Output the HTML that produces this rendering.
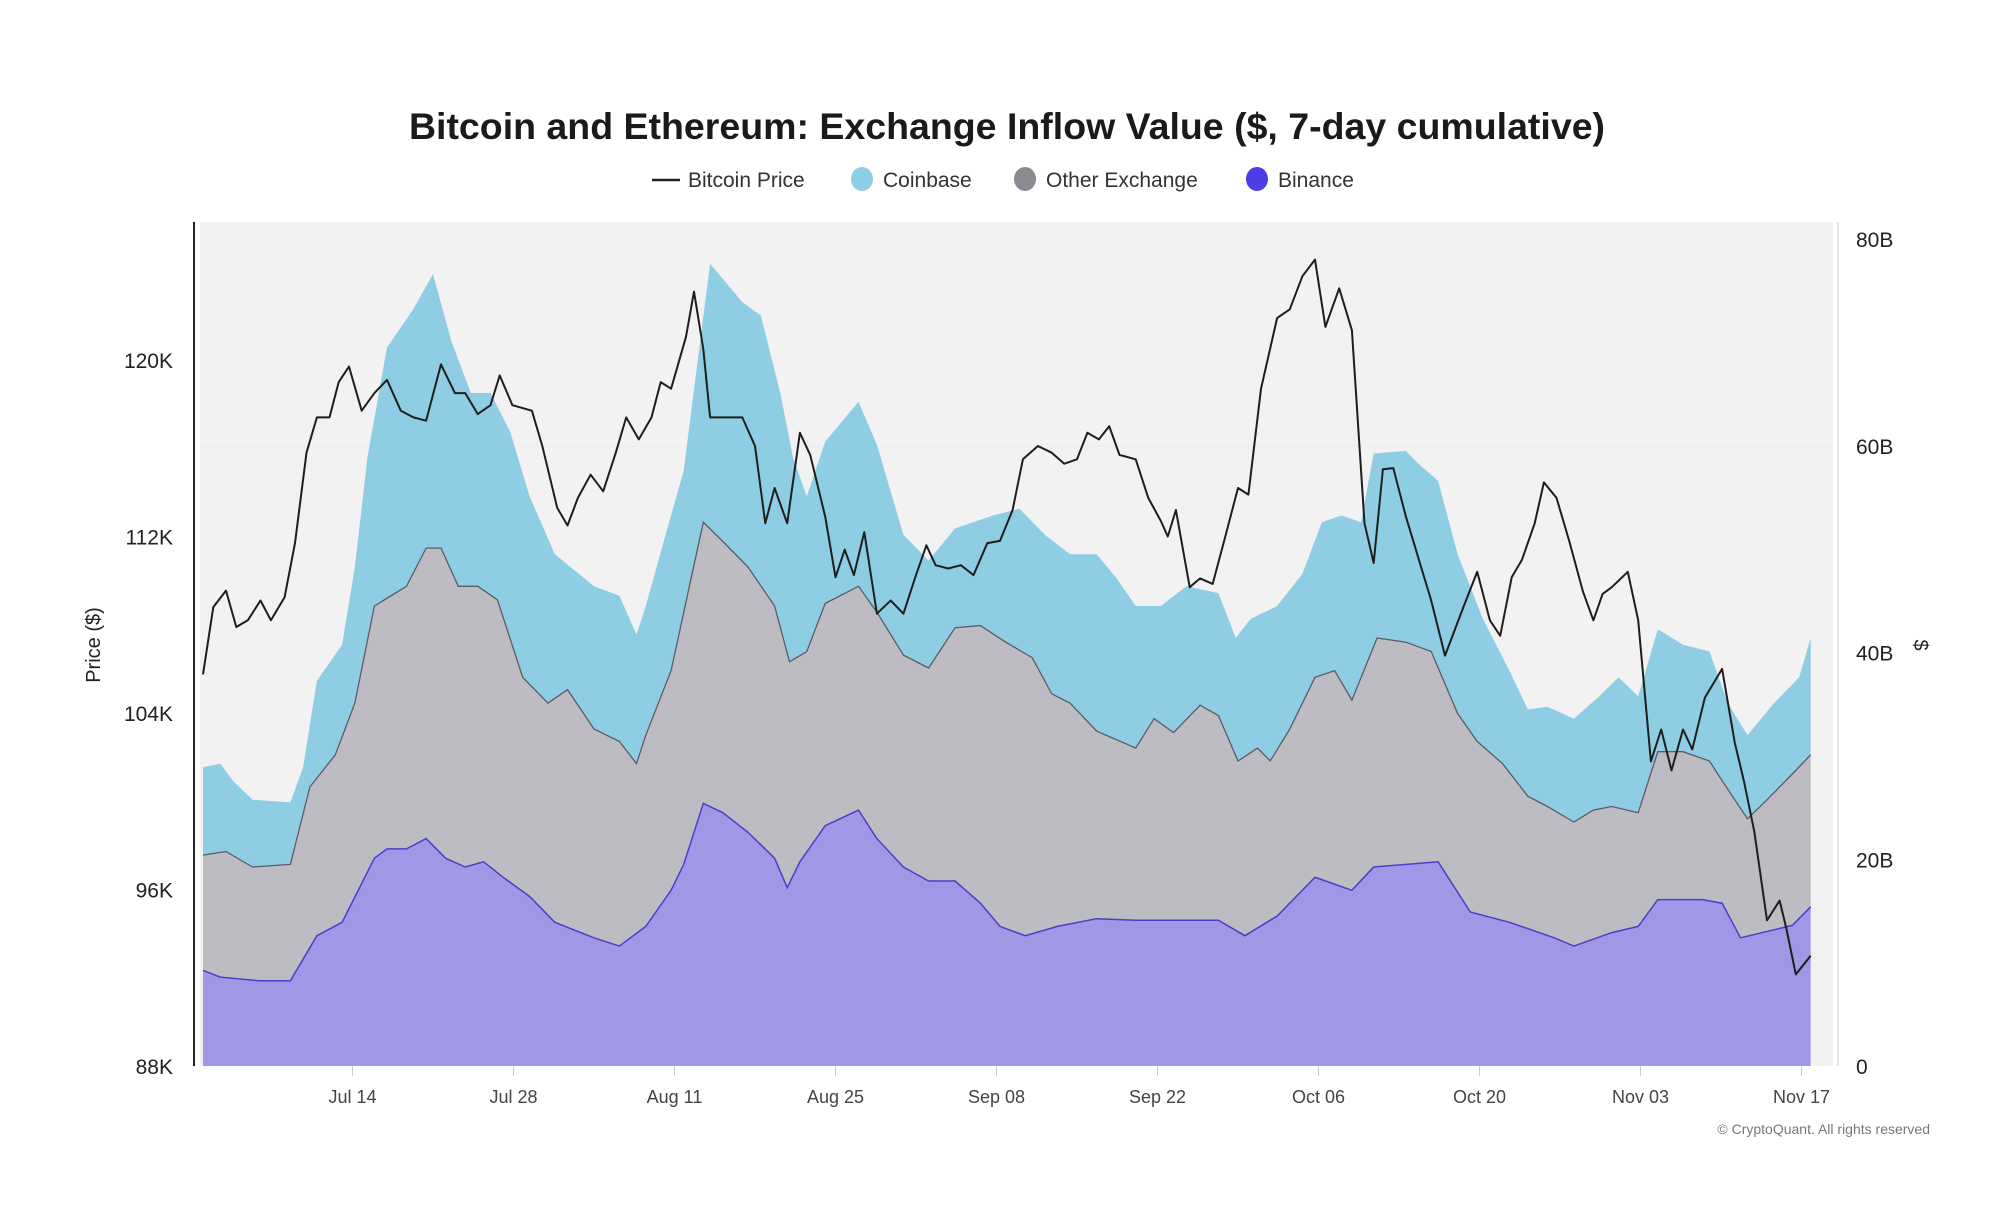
<!DOCTYPE html>
<html><head><meta charset="utf-8"><title>Bitcoin and Ethereum: Exchange Inflow Value</title>
<style>
html,body{margin:0;padding:0;background:#fff;}
body{width:2014px;height:1230px;overflow:hidden;font-family:"Liberation Sans",sans-serif;}
svg{display:block;}
</style></head>
<body>
<svg id="chart" width="2014" height="1230" viewBox="0 0 2014 1230" xmlns="http://www.w3.org/2000/svg">
  <text x="1007" y="139" text-anchor="middle" font-size="37.5" font-weight="bold" fill="#1a1a1a">Bitcoin and Ethereum: Exchange Inflow Value ($, 7-day cumulative)</text>
  <g font-size="21" fill="#333">
    <g>
      <line x1="652" y1="180" x2="680" y2="180" stroke="#222" stroke-width="2.5"/>
      <text x="688" y="187">Bitcoin Price</text>
    </g>
    <g>
      <ellipse cx="862" cy="179" rx="11" ry="12" fill="#8ecfe7"/>
      <text x="883" y="187">Coinbase</text>
    </g>
    <g>
      <ellipse cx="1025" cy="179" rx="11" ry="12" fill="#8b8a90"/>
      <text x="1046" y="187">Other Exchange</text>
    </g>
    <g>
      <ellipse cx="1257" cy="179" rx="11" ry="12" fill="#4b3ee6"/>
      <text x="1278" y="187">Binance</text>
    </g>
  </g>
  <rect x="200" y="222" width="1633" height="844" fill="#f2f2f3"/>
  <line x1="200" y1="446" x2="1833" y2="446" stroke="#ebebed" stroke-width="1"/>
  <text x="1010" y="660" text-anchor="middle" font-size="70" fill="#000" fill-opacity="0.035">CryptoQuant</text>
  <g id="areas"></g>
  <g id="priceLayer"></g>
  <line x1="194" y1="222" x2="194" y2="1066" stroke="#222" stroke-width="2"/>
  <line x1="1838" y1="222" x2="1838" y2="1066" stroke="#ddd" stroke-width="1.5"/>
  <g id="leftTicks" font-size="21" fill="#222" text-anchor="end"></g>
  <g id="rightTicks" font-size="21" fill="#222"></g>
  <g id="xTicks" font-size="18" fill="#444" text-anchor="middle"></g>
  <text transform="translate(100,645) rotate(-90)" text-anchor="middle" font-size="20" fill="#222">Price ($)</text>
  <text transform="translate(1914,645) rotate(90)" text-anchor="middle" font-size="20" fill="#222">$</text>
  <text x="1930" y="1134" text-anchor="end" font-size="14" fill="#777">© CryptoQuant. All rights reserved</text>
</svg>
<script>
// x axis: days since Jul 1
const xTickDays = [13, 27, 41, 55, 69, 83, 97, 111, 125, 139];
const xTickLabels = ["Jul 14","Jul 28","Aug 11","Aug 25","Sep 08","Sep 22","Oct 06","Oct 20","Nov 03","Nov 17"];
const priceTicks = [88, 96, 104, 112, 120];
const priceTickLabels = ["88K","96K","104K","112K","120K"];
const valueTicks = [0, 20, 40, 60, 80];
const valueTickLabels = ["0","20B","40B","60B","80B"];

// Binance inflow (B$)
const binanceDays = [0,1.5,4.8,7.6,9.9,12.1,14.9,16,17.7,19.4,21.1,22.8,24.4,26.1,28.4,30.6,34,36.2,38.5,40.7,41.8,43.5,45.2,47.4,49.7,50.8,51.9,54.1,57,58.6,60.9,63.1,65.4,67.6,69.3,71.5,74.3,77.7,81.1,84.4,88.3,90.6,93.4,96.7,99.9,101.8,107.4,110.2,113.6,117.5,119.2,122.5,124.8,126.5,130.4,132.1,133.7,138.2,139.8];
const binanceVals = [9.25,8.6,8.25,8.25,12.6,13.9,20.1,21,21,22,20.1,19.25,19.75,18.25,16.4,13.9,12.4,11.6,13.5,17,19.5,25.4,24.5,22.6,20.1,17.25,19.75,23.25,24.75,22,19.25,17.9,17.9,15.75,13.5,12.6,13.5,14.25,14.1,14.1,14.1,12.6,14.5,18.25,17,19.25,19.75,14.9,13.9,12.4,11.6,12.9,13.5,16.1,16.1,15.75,12.4,13.6,15.4];

// Binance + Other Exchange cumulative total (B$)
const otherDays = [0,2,4.3,7.6,9.3,11.5,13.2,14.9,17.7,19.4,20.7,22.2,23.9,25.6,27.8,30,31.7,34,36.2,37.7,38.5,40.7,43.5,45.2,47.4,49.7,51,52.5,54.1,57,58.6,60.9,63.1,65.4,67.6,69.8,72.1,73.8,75.4,77.7,81.1,82.7,84.4,86.7,88.3,90,91.7,92.8,94.5,96.7,98.4,99.9,102.1,104.6,106.8,109.1,110.8,113,115.2,116.9,119.2,120.9,122.5,124.8,126.5,128.7,131,132.1,134.3,136,138.2,139.8];
const otherTotals = [20.4,20.75,19.25,19.5,27,30.1,35.1,44.5,46.4,50.1,50.1,46.4,46.4,45.1,37.6,35.1,36.4,32.6,31.4,29.25,32,38.25,52.6,50.75,48.25,44.5,39.1,40.1,44.75,46.4,43.9,39.75,38.5,42.4,42.6,41,39.5,36,35.1,32.4,30.75,33.6,32.25,34.9,33.9,29.5,30.75,29.5,32.6,37.6,38.25,35.4,41.4,41,40.1,34.1,31.4,29.25,26.1,25.1,23.6,24.75,25.1,24.5,30.4,30.4,29.5,27.6,23.9,25.75,28.25,30.1];

// Binance + Other + Coinbase cumulative total (B$)
const coinbaseDays = [0,1.5,2.6,4.3,7.6,8.7,9.9,12.1,13.2,14.3,16,18.3,20,21.6,23.3,25,26.7,28.4,30.6,34,36.2,37.7,38.5,39.6,41.8,44.1,46.9,48.5,50.2,51.3,52.5,54.1,57,58.6,60.9,63.1,65.4,68.7,71,73.2,75.4,77.7,79.4,81.1,83.3,85.5,88.3,89.8,91.1,93.4,95.6,97.3,99,100.7,101.8,104.6,105.7,107.4,109.1,111.3,113.6,115.2,116.9,119.2,121.4,123.1,124.8,126.5,128.7,131,132.6,134.3,136.6,138.8,139.8];
const coinbaseTotals = [28.9,29.25,27.6,25.75,25.5,28.9,37.25,40.75,48.25,58.9,69.5,73.25,76.6,70.1,65.1,65.1,61.4,55.1,49.5,46.4,45.5,41.75,44.5,48.9,57.6,77.6,73.9,72.6,65.1,58.9,55.1,60.4,64.25,60.1,51.4,48.9,52,53.25,53.9,51.4,49.5,49.5,47.25,44.5,44.5,46.4,45.75,41.4,43.25,44.5,47.6,52.6,53.25,52.6,59.25,59.5,58.25,56.6,49.5,43.25,38.25,34.5,34.75,33.6,35.75,37.6,35.75,42.25,40.75,40.1,35.1,32,35.1,37.6,41.4];

// Bitcoin price (K$)
const priceDays = [0,0.9,2,2.9,3.9,5,5.9,7.1,8,9,9.9,11,11.8,12.7,13.8,14.9,16,17.2,18.3,19.4,20.7,21.9,22.8,23.9,25,25.8,26.9,28.6,29.5,30.8,31.7,32.6,33.7,34.8,35.9,36.8,37.9,39,39.8,40.7,42,42.7,43.5,44.1,45.2,46.9,48,48.9,49.7,50.8,51.9,52.8,54.1,55,55.8,56.6,57.5,58.6,59.8,60.9,62,62.9,63.7,64.8,65.9,67,68.2,69.3,70.4,71.3,72.6,73.8,74.9,76,76.9,77.9,78.8,79.7,81.1,82.2,83.3,83.9,84.6,85.8,86.7,87.8,88.9,90,90.9,92,93.4,94.5,95.6,96.7,97.6,98.8,99.9,101,101.8,102.6,103.5,104.6,106.8,108,109.6,110.8,111.9,112.8,113.8,114.7,115.8,116.6,117.7,118.8,120,120.9,121.7,122.5,123.9,124.8,125.9,126.8,127.7,128.7,129.5,130.6,132.1,133.2,134,134.9,136,137.1,137.7,138.5,139.8];
const priceVals = [105.75,108.8,109.55,107.9,108.2,109.1,108.2,109.25,111.7,115.8,117.4,117.4,119,119.7,117.7,118.5,119.1,117.7,117.4,117.25,119.8,118.5,118.5,117.55,117.95,119.3,117.95,117.7,116.1,113.3,112.5,113.75,114.8,114.05,115.8,117.4,116.4,117.4,119,118.7,121.05,123.1,120.5,117.4,117.4,117.4,116.1,112.6,114.2,112.6,116.7,115.7,112.9,110.15,111.4,110.25,112.2,108.5,109.1,108.5,110.25,111.6,110.7,110.55,110.7,110.25,111.7,111.8,113.2,115.5,116.1,115.8,115.3,115.5,116.7,116.4,117,115.7,115.5,113.75,112.7,112,113.2,109.7,110.1,109.85,112,114.2,113.9,118.7,121.9,122.3,123.8,124.55,121.5,123.25,121.35,112.6,110.8,115.05,115.1,112.9,109.1,106.6,108.8,110.4,108.2,107.5,110.15,110.95,112.6,114.45,113.75,111.8,109.5,108.2,109.4,109.7,110.4,108.2,101.8,103.25,101.4,103.25,102.35,104.7,106,102.65,100.9,98.6,94.6,95.5,94.2,92.15,93];

// axis functions
const X0 = 203, X1 = 1813, DAY0 = 0, DAY1 = 140;
const xScale = d => X0 + (d - DAY0) / (DAY1 - DAY0) * (X1 - X0);
const BOTTOM = 1066;
const yPrice = p => BOTTOM - (p - 88) / (120 - 88) * (BOTTOM - 360);
const yVal = v => BOTTOM - v / 80 * (BOTTOM - 239);

const NS = "http://www.w3.org/2000/svg";
function mk(tag, attrs, parent) {
  const el = document.createElementNS(NS, tag);
  for (const k in attrs) el.setAttribute(k, attrs[k]);
  parent.appendChild(el);
  return el;
}
function linePts(days, vals, ys) {
  return days.map((d, i) => xScale(d).toFixed(1) + "," + ys(vals[i]).toFixed(1));
}

const areas = document.getElementById("areas");
const bPts = linePts(binanceDays, binanceVals, yVal);
const oPts = linePts(otherDays, otherTotals, yVal);
const cPts = linePts(coinbaseDays, coinbaseTotals, yVal);

const coinArea = mk("polygon", {points: cPts.concat(oPts.slice().reverse()).join(" "), fill: "#8ecde3"}, areas);


const otherArea = mk("polygon", {points: oPts.concat(bPts.slice().reverse()).join(" "), fill: "#bdbcc3"}, areas);


const binArea = mk("polygon", {points: bPts.concat([xScale(binanceDays[binanceDays.length-1]).toFixed(1)+","+BOTTOM, xScale(binanceDays[0]).toFixed(1)+","+BOTTOM]).join(" "), fill: "#a097e6"}, areas);


const otherLine = mk("polyline", {points: oPts.join(" "), fill: "none", stroke: "#5d5c63", "stroke-width": 1.3}, areas);


const binLine = mk("polyline", {points: bPts.join(" "), fill: "none", stroke: "#4a3fc8", "stroke-width": 1.5}, areas);



const priceLayer = document.getElementById("priceLayer");
const priceLine = mk("polyline", {points: linePts(priceDays, priceVals, yPrice).join(" "), fill: "none", stroke: "#1e1e1e", "stroke-width": 2, "stroke-linejoin": "round"}, priceLayer);



const lt = document.getElementById("leftTicks");
priceTicks.forEach((p, i) => {
  const t = mk("text", {x: 173, y: yPrice(p) + 8}, lt);
  t.textContent = priceTickLabels[i];
  
  
});
const rt = document.getElementById("rightTicks");
valueTicks.forEach((v, i) => {
  const t = mk("text", {x: 1856, y: yVal(v) + 8}, rt);
  t.textContent = valueTickLabels[i];
  
  
});
const xt = document.getElementById("xTicks");
xTickDays.forEach((d, i) => {
  const tk = mk("line", {x1: xScale(d), y1: BOTTOM, x2: xScale(d), y2: BOTTOM + 10, stroke: "#ccc", "stroke-width": 1}, xt);
  
  
  const t = mk("text", {x: xScale(d), y: 1103}, xt);
  t.textContent = xTickLabels[i];
  
  
});
</script>
</body></html>
